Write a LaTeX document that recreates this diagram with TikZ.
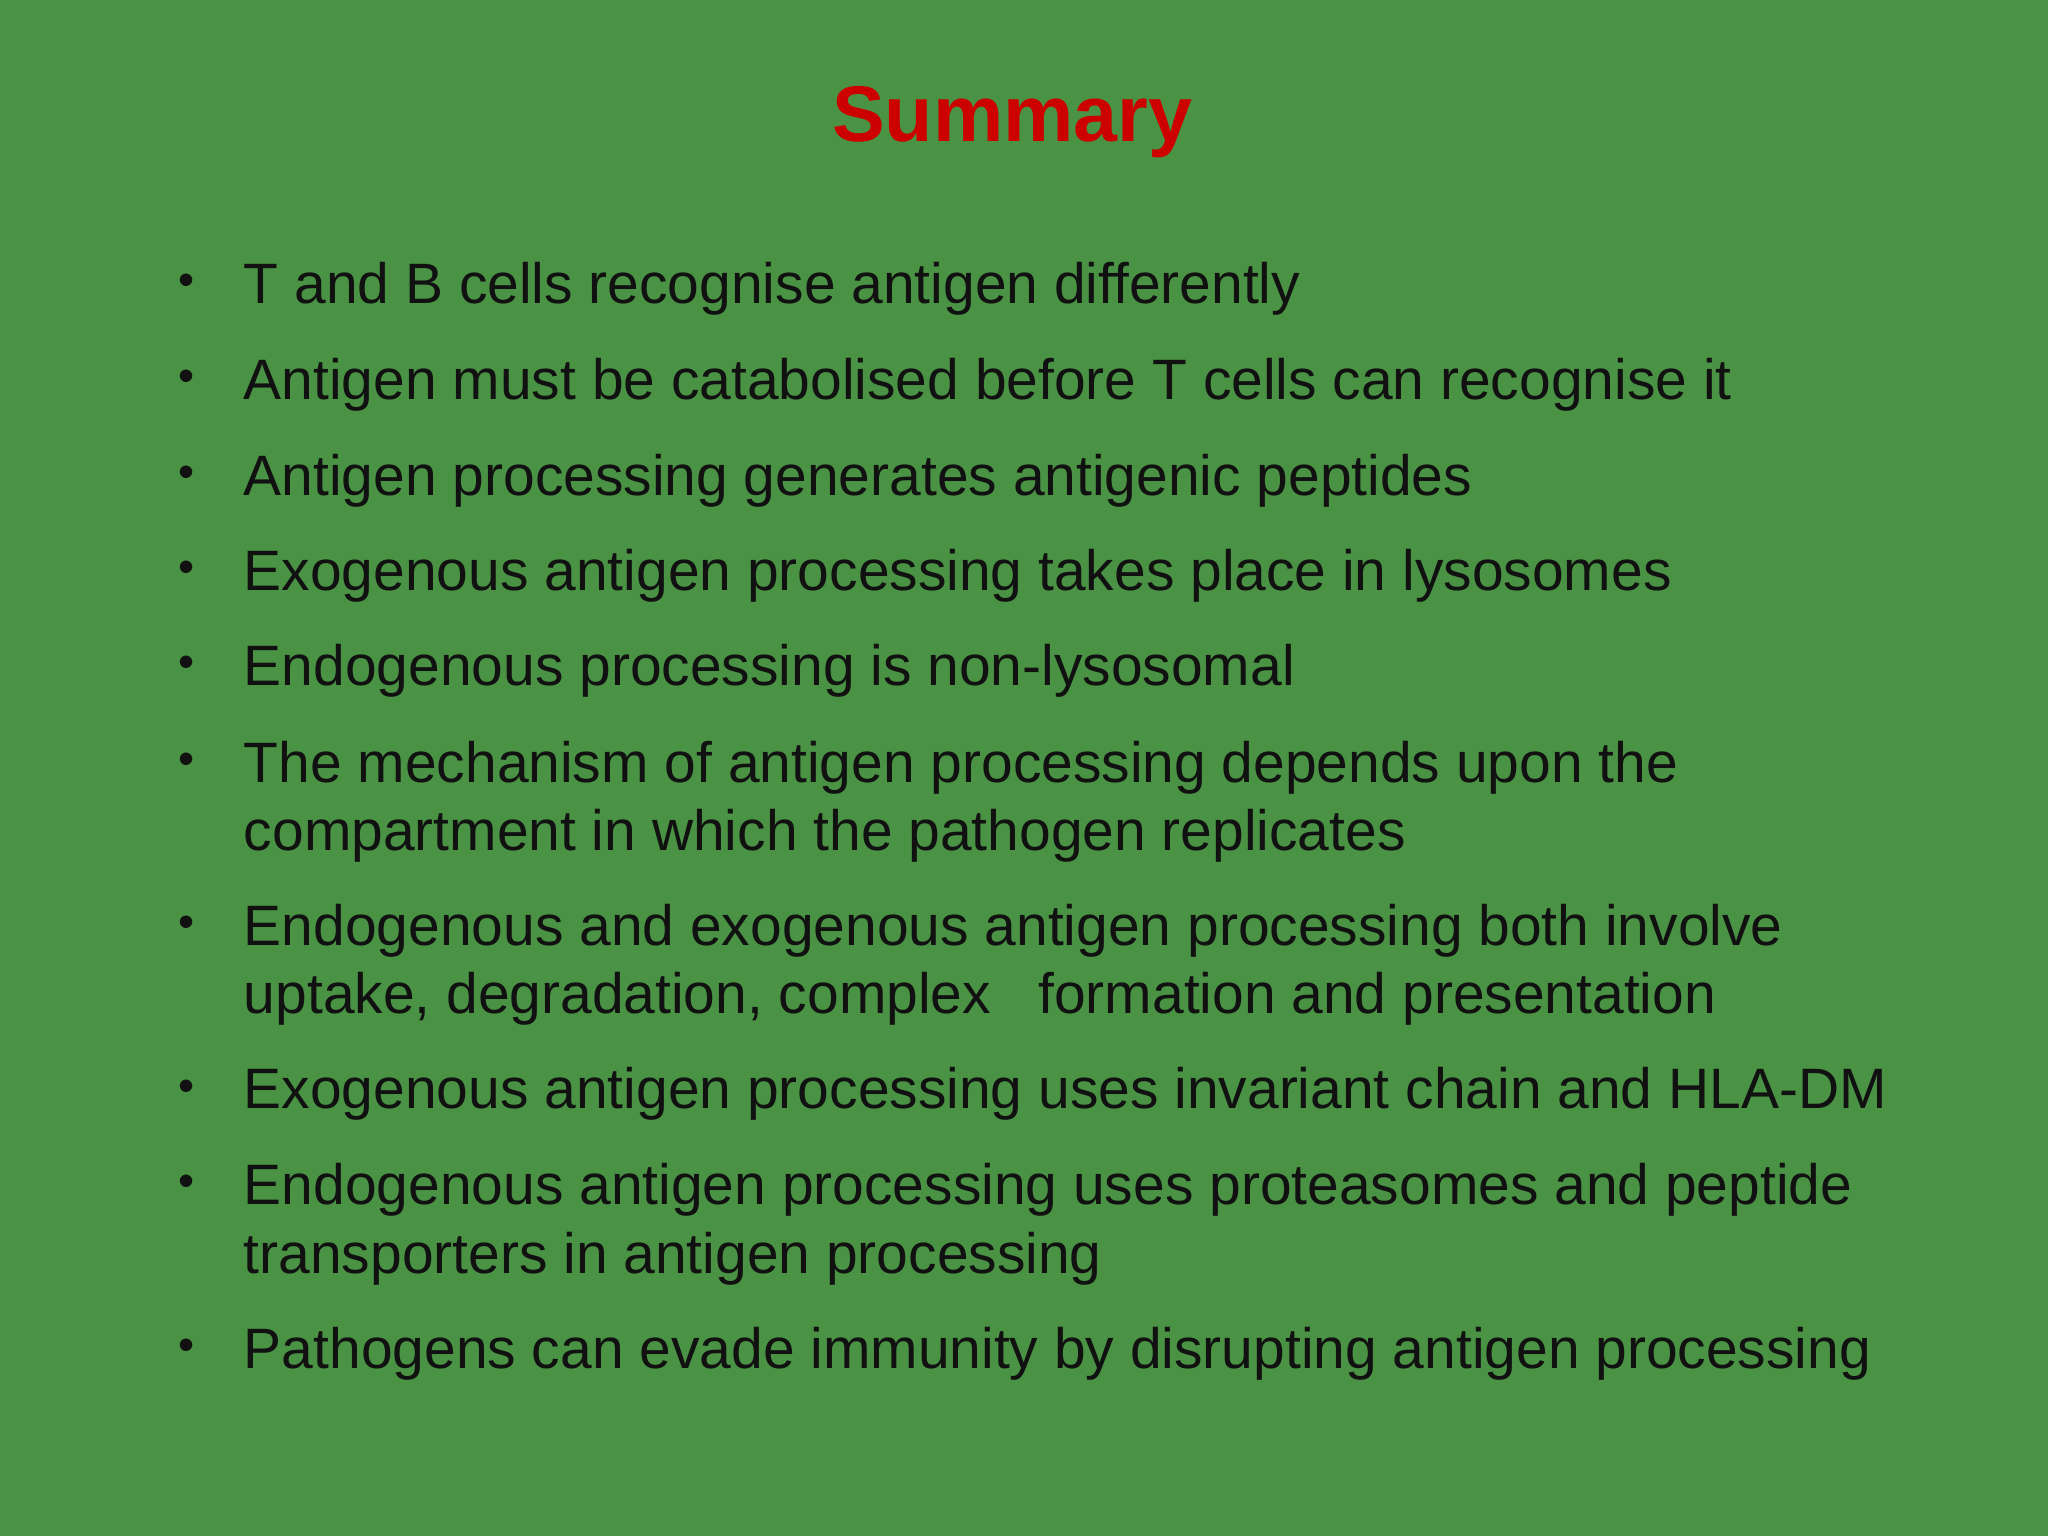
\documentclass[tikz,border=0pt]{standalone}
\usepackage{fontspec}
\setmainfont{Liberation Sans}
\definecolor{bg}{HTML}{4A9244}
\definecolor{ttl}{HTML}{CC0000}
\definecolor{txt}{HTML}{111111}
\begin{document}
\begin{tikzpicture}[x=0.01cm,y=-0.01cm,
  ln/.style={anchor=base west,inner sep=0pt,text=txt,font=\fontsize{12.4pt}{14pt}\selectfont},
  bl/.style={anchor=base,inner sep=0pt,text=txt,font=\fontsize{10pt}{12pt}\selectfont}]
\fill[bg] (0,0) rectangle (1568,1176);
\useasboundingbox (0,0) rectangle (1568,1176);
\node[anchor=base,inner sep=0pt,text=ttl,font=\fontsize{17.2pt}{20pt}\selectfont\bfseries] (title) at (775,108) {Summary};
\foreach \y/\t [count=\i] in {
 232/{T and B cells recognise antigen differently},
 306/{Antigen must be catabolised before T cells can recognise it},
 379/{Antigen processing generates antigenic peptides},
 452/{Exogenous antigen processing takes place in lysosomes},
 525/{Endogenous processing is non-lysosomal},
 599/{The mechanism of antigen processing depends upon the},
 724/{Endogenous and exogenous antigen processing both involve},
 849/{Exogenous antigen processing uses invariant chain and HLA-DM},
 922/{Endogenous antigen processing uses proteasomes and peptide},
 1048/{Pathogens can evade immunity by disrupting antigen processing}}{
 \node[bl] (b\i) at (143,\y-6) {•};
 \node[ln] (l\i) at (186,\y) {\t};
}
\node[ln] (l6b) at (186,651) {compartment in which the pathogen replicates};
\node[ln] (l7b) at (186,776) {uptake, degradation, complex\ \ \ formation and presentation};
\node[ln] (l9b) at (186,975) {transporters in antigen processing};
\end{tikzpicture}
\end{document}
